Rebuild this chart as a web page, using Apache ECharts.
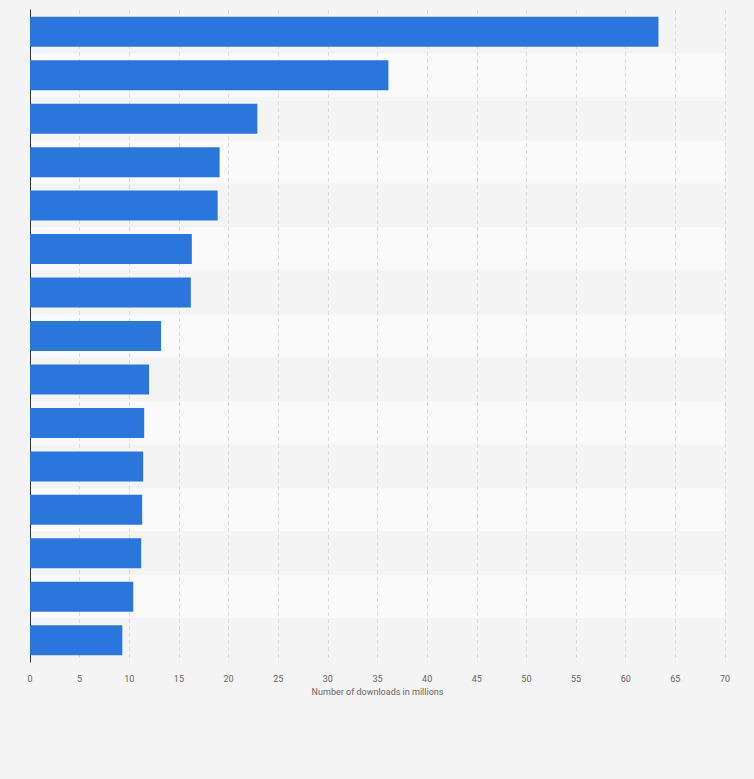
<!DOCTYPE html>
<html><head><meta charset="utf-8">
<script src="https://cdn.jsdelivr.net/npm/echarts@6/dist/echarts.min.js"></script>
<style>html,body{margin:0;background:#f4f4f4}#c{width:754px;height:779px}</style>
</head><body><div id="c"></div>
<script>
var categories = ['1','2','3','4','5','6','7','8','9','10','11','12','13','14','15'];
var downloads = [63.3, 36.1, 22.9, 19.1, 18.9, 16.3, 16.2, 13.2, 12.0, 11.5, 11.4, 11.3, 11.2, 10.4, 9.3];

var chart = echarts.init(document.getElementById('c'), null, { renderer: 'svg' });
chart.setOption({
  animation: false,
  backgroundColor: '#f4f4f4',
  grid: { left: 30, right: 29, top: 10, bottom: 117 },
  xAxis: {
    type: 'value', min: 0, max: 70, interval: 5,
    name: 'Number of downloads in millions', nameLocation: 'middle', nameGap: 24,
    nameTextStyle: { color: '#666', fontSize: 9, fontFamily: 'Roboto' },
    axisLine: { show: false }, axisTick: { show: false },
    axisLabel: { color: '#666', fontSize: 9, fontFamily: 'Roboto', margin: 12 },
    splitLine: { lineStyle: { color: '#dcdcdc', type: [4, 3] } }
  },
  yAxis: {
    type: 'category', data: categories, inverse: true,
    axisLine: { lineStyle: { color: '#333' } }, axisTick: { show: false },
    axisLabel: { show: false },
    splitArea: { show: true, areaStyle: { color: ['#f4f4f4', '#fafafa'] } }
  },
  series: [{
    type: 'bar', data: downloads, barWidth: '69%',
    itemStyle: { color: '#2a76dd' }
  }]
});
</script></body></html>
